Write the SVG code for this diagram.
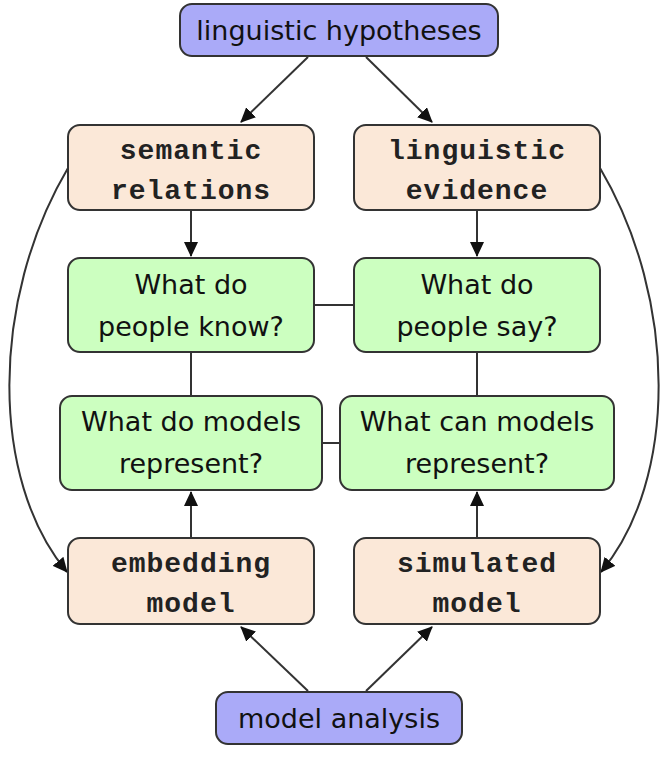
<svg xmlns="http://www.w3.org/2000/svg" width="668" height="758" viewBox="0 0 668 758">
<style>
.b{fill:#aaaaf8;stroke:#333;stroke-width:2}
.p{fill:#fbe8d8;stroke:#333;stroke-width:2}
.g{fill:#ccffc0;stroke:#333;stroke-width:2}
.s{font-family:"DejaVu Sans","Noto Sans",sans-serif;font-size:27px;fill:#111;text-anchor:middle}
.m{font-family:"Liberation Mono",monospace;font-size:28px;font-weight:bold;fill:#222;text-anchor:middle;letter-spacing:1px}
.c line,.c path{stroke:#333;stroke-width:2;fill:none}
</style>
<defs><marker id="a" markerWidth="15" markerHeight="14" refX="14" refY="7" orient="auto" markerUnits="userSpaceOnUse" viewBox="0 0 15 14"><path d="M0,0 L15,7 L0,14 z" fill="#111"/></marker></defs>
<g class="c">
<line x1="308" y1="57" x2="241" y2="122" marker-end="url(#a)"/>
<line x1="366" y1="57" x2="432" y2="122" marker-end="url(#a)"/>
<line x1="191" y1="211" x2="191" y2="256" marker-end="url(#a)"/>
<line x1="477" y1="211" x2="477" y2="256" marker-end="url(#a)"/>
<line x1="314" y1="305" x2="354" y2="305"/>
<line x1="191" y1="352" x2="191" y2="396"/>
<line x1="477" y1="352" x2="477" y2="396"/>
<line x1="322" y1="443" x2="340" y2="443"/>
<line x1="191" y1="538" x2="191" y2="492" marker-end="url(#a)"/>
<line x1="477" y1="538" x2="477" y2="492" marker-end="url(#a)"/>
<line x1="308" y1="691" x2="241" y2="627" marker-end="url(#a)"/>
<line x1="366" y1="691" x2="432" y2="627" marker-end="url(#a)"/>
<path d="M68,168 C-10,300 -10,480 67,572" marker-end="url(#a)"/>
<path d="M600,168 C678,300 678,480 601,572" marker-end="url(#a)"/>
</g>
<g id="hyp"><rect class="b" x="180" y="4" width="318" height="52" rx="12"/><text class="s" x="339" y="40">linguistic hypotheses</text></g>
<g id="sem"><rect class="p" x="68" y="125" width="246" height="85" rx="12"/><text class="m" x="191" y="159">semantic</text><text class="m" x="191" y="199">relations</text></g>
<g id="ev"><rect class="p" x="354" y="125" width="246" height="85" rx="12"/><text class="m" x="477" y="159">linguistic</text><text class="m" x="477" y="199">evidence</text></g>
<g id="know"><rect class="g" x="68" y="258" width="246" height="94" rx="12"/><text class="s" x="191" y="294">What do</text><text class="s" x="191" y="336">people know?</text></g>
<g id="say"><rect class="g" x="354" y="258" width="246" height="94" rx="12"/><text class="s" x="477" y="294">What do</text><text class="s" x="477" y="336">people say?</text></g>
<g id="rep"><rect class="g" x="60" y="396" width="262" height="94" rx="12"/><text class="s" x="191" y="431">What do models</text><text class="s" x="191" y="473">represent?</text></g>
<g id="can"><rect class="g" x="340" y="396" width="274" height="94" rx="12"/><text class="s" x="477" y="431">What can models</text><text class="s" x="477" y="473">represent?</text></g>
<g id="emb"><rect class="p" x="68" y="538" width="246" height="86" rx="12"/><text class="m" x="191" y="572">embedding</text><text class="m" x="191" y="612">model</text></g>
<g id="sim"><rect class="p" x="354" y="538" width="246" height="86" rx="12"/><text class="m" x="477" y="572">simulated</text><text class="m" x="477" y="612">model</text></g>
<g id="ana"><rect class="b" x="216" y="692" width="246" height="52" rx="12"/><text class="s" x="339" y="728">model analysis</text></g>
</svg>
